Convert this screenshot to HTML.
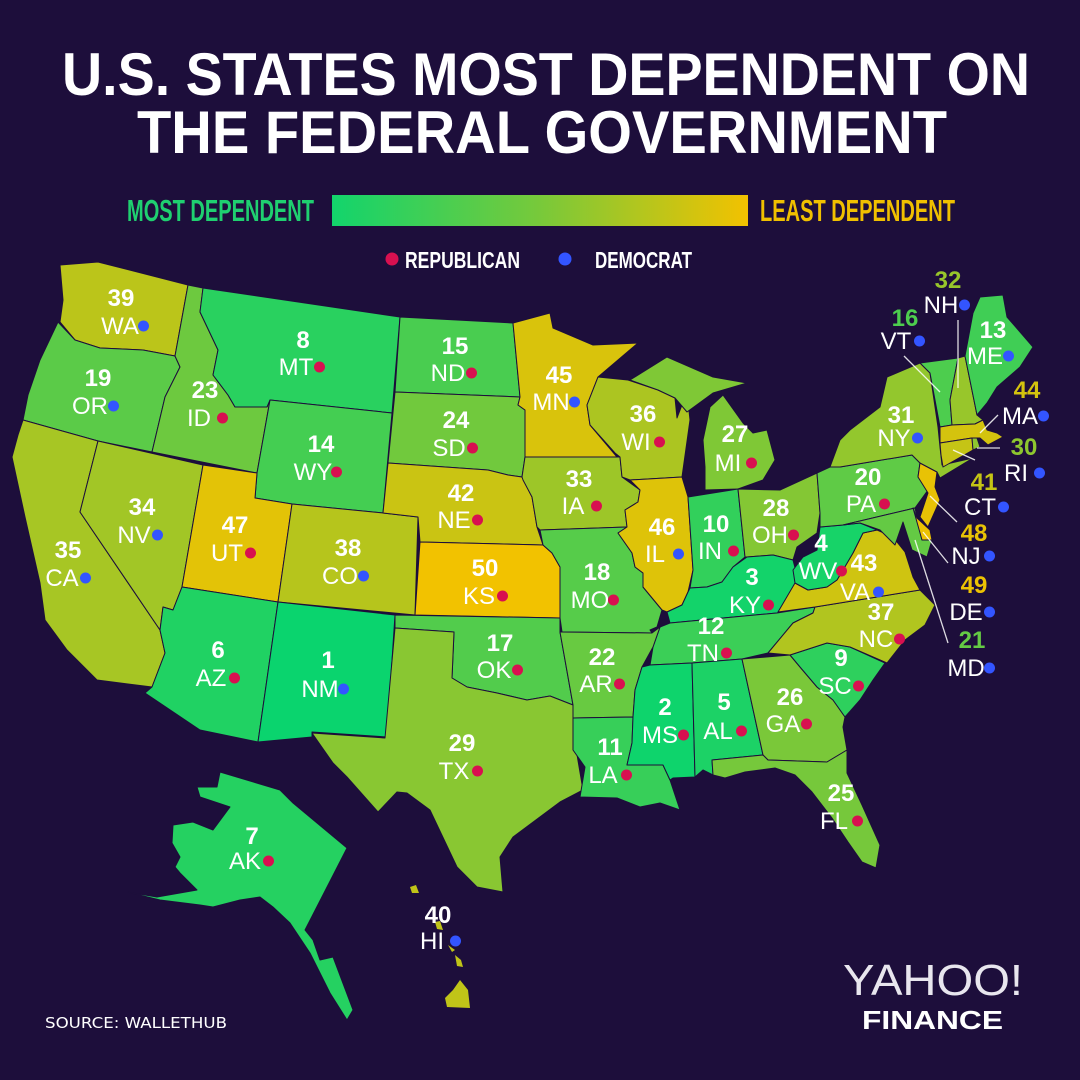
<!DOCTYPE html>
<html><head><meta charset="utf-8">
<style>
html,body{margin:0;padding:0;background:#1d0e3b;}
svg{display:block}
</style></head>
<body>
<svg id="s" width="1080" height="1080" viewBox="0 0 1080 1080" xmlns="http://www.w3.org/2000/svg">
<rect width="1080" height="1080" fill="#1d0e3b"/>
<defs>
<linearGradient id="lg" x1="0" x2="1" y1="0" y2="0">
<stop offset="0" stop-color="#12d46c"/>
<stop offset="0.5" stop-color="#78c93a"/>
<stop offset="1" stop-color="#f2c200"/>
</linearGradient>
</defs>
<g font-family="Liberation Sans, sans-serif" font-weight="bold" fill="#fff">
<text x="62" y="95" font-size="60" textLength="968" lengthAdjust="spacingAndGlyphs">U.S. STATES MOST DEPENDENT ON</text>
<text x="137" y="153" font-size="60" textLength="810" lengthAdjust="spacingAndGlyphs">THE FEDERAL GOVERNMENT</text>
<text x="127" y="221" font-size="31" fill="#1fd070" textLength="187" lengthAdjust="spacingAndGlyphs">MOST DEPENDENT</text>
<text x="760" y="221" font-size="31" fill="#f0c000" textLength="195" lengthAdjust="spacingAndGlyphs">LEAST DEPENDENT</text>
<text x="405" y="268" font-size="23" textLength="115" lengthAdjust="spacingAndGlyphs">REPUBLICAN</text>
<text x="595" y="268" font-size="23" textLength="97" lengthAdjust="spacingAndGlyphs">DEMOCRAT</text>
</g>
<rect x="332" y="195" width="416" height="31" fill="url(#lg)"/>
<circle cx="392" cy="259" r="6.5" fill="#d81050"/>
<circle cx="565" cy="259" r="6.5" fill="#3355ff"/>
<g id="map" stroke="#1d0e3b" stroke-width="1" stroke-linejoin="round"></g>
<g id="lines" stroke="#ffffff" stroke-width="1.3" opacity="0.85"></g>
<g id="labels" font-family="Liberation Sans, sans-serif"></g>
<text x="45" y="1028" font-family="DejaVu Sans, Liberation Sans, sans-serif" font-size="15" fill="#fff" textLength="182" lengthAdjust="spacingAndGlyphs">SOURCE:  WALLETHUB</text>
<text x="843" y="995" font-family="Liberation Sans, sans-serif" font-size="44" fill="#e8e6ee" textLength="180" lengthAdjust="spacingAndGlyphs">YAHOO!</text>
<text x="862" y="1029" font-family="Liberation Sans, sans-serif" font-weight="bold" font-size="26" fill="#fff" textLength="141" lengthAdjust="spacingAndGlyphs">FINANCE</text>
</svg>
<script>
function col(r){var t=(r-1)/49,a,b,u;var s0=[10,212,110],s1=[120,200,58],s2=[242,194,0];
if(t<.5){a=s0;b=s1;u=t/.5}else{a=s1;b=s2;u=(t-.5)/.5}
return 'rgb('+a.map(function(v,i){return Math.round(v+(b[i]-v)*u)}).join(',')+')';}
var P={
WA:[39,"60,265 98,262 188,285 175,356 143,350 100,348 75,340 60,322 63,300"],
OR:[19,"58,322 75,340 100,348 143,350 175,356 180,367 165,397 152,452 98,441 23,420 28,395 40,360"],
CA:[35,"23,420 98,441 80,512 160,630 165,653 152,687 97,680 67,650 45,620 40,583 25,517 12,457 18,435"],
NV:[34,"98,441 203,465 182,587 173,610 163,607 160,630 80,512"],
ID:[23,"188,285 203,288 200,312 218,350 213,375 228,395 235,407 267,407 270,400 257,473 152,452 165,397 180,367 175,356"],
MT:[8,"203,288 400,317 392,413 270,400 267,407 235,407 228,395 213,375 218,350 200,312"],
WY:[14,"270,400 392,413 383,513 292,504 255,498 257,473"],
UT:[47,"203,465 257,473 255,498 292,504 278,602 182,587"],
CO:[38,"292,504 383,513 418,517 415,615 278,602"],
AZ:[6,"182,587 278,602 258,742 200,730 145,693 152,687 165,653 160,630 163,607 173,610"],
NM:[1,"278,602 395,615 387,737 312,732 312,737 258,742"],
ND:[15,"400,317 513,323 520,397 395,392"],
SD:[24,"395,392 520,397 518,405 525,410 525,457 522,477 508,475 488,470 388,463"],
NE:[42,"388,463 488,470 508,475 522,477 532,497 537,527 543,545 420,542 418,517 383,513"],
KS:[50,"420,542 543,545 552,553 560,567 560,618 415,615"],
OK:[17,"395,615 560,618 560,632 565,660 573,705 550,696 527,700 497,693 467,687 452,678 454,632 395,628"],
TX:[29,"395,628 454,632 452,678 467,687 497,693 527,700 550,696 573,705 575,743 583,790 560,802 513,837 500,857 503,892 477,887 457,867 430,810 407,793 397,792 378,812 347,777 333,763 312,733 385,738"],
MN:[45,"513,323 550,313 553,328 593,345 638,343 598,377 587,405 590,425 617,457 525,457 525,410 518,405 520,397"],
IA:[33,"525,457 620,457 622,477 640,490 638,502 625,510 627,527 540,530 537,527 532,497 523,480 522,477"],
MO:[18,"540,530 627,527 618,533 632,553 635,567 643,573 643,587 662,610 657,627 650,630 652,633 562,632 560,618 560,567 552,553 543,545"],
WI:[36,"598,377 628,380 658,390 675,398 677,418 687,392 690,420 682,477 630,480 622,477 620,457 615,453 590,425 587,405"],
MIU:[27,"630,380 667,357 713,377 747,383 713,393 687,412 675,398 658,390"],
MI:[27,"705,490 738,489 763,480 775,460 767,430 753,433 743,423 723,395 710,407 703,440 705,467"],
IL:[46,"630,480 682,477 688,497 693,570 688,592 682,605 667,612 662,610 643,587 643,573 635,567 632,553 618,533 627,527 625,510 638,502 640,490"],
IN:[10,"688,497 738,489 745,557 733,567 722,582 707,587 690,588 693,570"],
OH:[28,"738,489 780,490 817,473 820,513 817,533 797,547 793,560 773,555 747,557 745,557"],
KY:[3,"690,588 707,587 722,582 733,567 747,557 773,555 793,560 800,587 813,590 803,603 777,613 670,623 667,612 682,605 688,592"],
TN:[12,"660,627 670,623 777,613 815,607 813,613 793,623 768,653 742,659 692,663 650,665 653,647"],
AR:[22,"562,632 652,633 660,627 653,647 642,667 635,690 633,717 573,718 573,705 565,660 560,632"],
LA:[11,"573,718 633,717 632,743 627,765 663,765 670,780 680,810 660,803 640,807 617,798 580,797 585,767 573,750"],
MS:[2,"650,665 692,663 695,777 673,778 670,780 663,765 627,765 632,743 633,717 635,690 642,667"],
AL:[5,"692,663 742,659 763,755 712,760 713,775 703,770 695,777"],
GA:[26,"742,659 790,655 800,667 817,687 833,700 845,717 843,727 847,750 827,762 768,760 763,755"],
SC:[9,"790,655 827,643 850,647 885,663 873,680 860,700 845,717 833,700 817,687 800,667"],
FL:[25,"712,760 763,755 768,760 827,762 847,750 847,773 862,805 880,845 876,868 862,862 848,842 832,818 812,792 795,775 775,768 745,772 725,778 713,775"],
NC:[37,"815,607 920,590 935,605 925,625 905,640 887,663 850,647 827,643 790,655 768,653 793,623 813,613"],
VA:[43,"778,612 795,583 808,590 827,587 837,580 843,570 853,553 863,533 877,530 893,537 905,552 913,577 920,590 815,607"],
WV:[4,"795,583 793,570 803,557 817,550 820,527 843,525 860,523 877,530 863,533 853,553 843,570 837,580 827,587 808,590"],
PA:[20,"817,473 830,467 840,467 912,455 920,463 918,477 928,490 915,508 843,525 820,527 820,513"],
MD:[21,"843,525 915,508 922,540 932,540 927,557 912,550 903,522 895,545 880,530 860,523"],
DE:[49,"913,508 917,518 930,530 932,540 922,540"],
NJ:[48,"920,463 937,472 935,487 940,500 928,527 920,517 928,493 918,477"],
NY:[31,"830,467 840,467 912,455 920,463 937,472 940,478 973,458 942,465 940,447 938,427 930,373 920,363 887,377 880,407 850,430 840,440"],
VT:[16,"920,363 958,358 950,400 952,425 940,427 930,373"],
NH:[32,"958,358 965,356 977,415 983,420 975,424 952,425 950,400"],
ME:[13,"965,356 973,313 980,297 1003,295 1007,317 1033,347 1020,367 997,387 987,403 977,415"],
MA:[44,"940,427 952,425 975,424 983,420 987,430 997,433 1003,437 988,445 980,438 972,438 940,443"],
CT:[41,"940,443 972,438 973,450 943,467 941,455"],
RI:[30,"972,438 977,438 980,447 973,450"],
AK:[7,"220,772 280,790 293,803 347,848 305,930 313,940 320,960 333,957 353,1010 347,1020 330,993 310,953 290,923 273,907 260,897 240,900 213,907 200,905 160,900 127,892 157,897 197,890 180,873 175,867 180,857 172,843 173,825 193,822 213,830 230,807 200,797 197,787 217,787"],
HI1:[40,"410,887 416,885 419,893 412,893"],
HI2:[40,"435,922 440,921 443,930 437,929"],
HI3:[40,"448,945 455,950 452,952"],
HI4:[40,"455,955 461,960 463,967 457,966"],
HI5:[40,"460,980 468,990 470,1008 447,1007 445,998 453,990"]
};
var ns="http://www.w3.org/2000/svg",m=document.getElementById('map');
for(var k in P){var p=document.createElementNS(ns,'polygon');p.setAttribute('points',P[k][1]);p.setAttribute('fill',col(P[k][0]));if(k.indexOf('HI')==0)p.setAttribute('stroke','none');m.appendChild(p);}
var L=[
["WA",39,121,306,120,334,"D"],["OR",19,98,386,90,414,"D"],["CA",35,68,558,62,586,"D"],["NV",34,142,515,134,543,"D"],
["ID",23,205,398,199,426,"R"],["MT",8,303,348,296,375,"R"],["WY",14,321,452,313,480,"R"],["UT",47,235,533,227,561,"R"],
["CO",38,348,556,340,584,"D"],["AZ",6,218,658,211,686,"R"],["NM",1,328,668,320,697,"D"],["ND",15,455,354,448,381,"R"],
["SD",24,456,428,449,456,"R"],["NE",42,461,501,454,528,"R"],["KS",50,485,576,479,604,"R"],["OK",17,500,651,494,678,"R"],
["TX",29,462,751,454,779,"R"],["MN",45,559,383,551,410,"D"],["IA",33,579,487,573,514,"R"],["MO",18,597,580,590,608,"R"],
["AR",22,602,665,596,692,"R"],["LA",11,610,755,603,783,"R"],["WI",36,643,422,636,450,"R"],["IL",46,662,535,655,562,"D"],
["MI",27,735,442,728,471,"R"],["IN",10,716,532,710,559,"R"],["OH",28,776,516,770,543,"R"],["KY",3,752,585,745,613,"R"],
["TN",12,711,634,703,661,"R"],["MS",2,665,715,660,743,"R"],["AL",5,724,710,718,739,"R"],["GA",26,790,705,783,732,"R"],
["SC",9,841,666,835,694,"R"],["FL",25,841,801,834,829,"R"],["NC",37,881,620,876,647,"R"],["VA",43,864,571,855,600,"D"],
["WV",4,821,551,818,579,"R"],["PA",20,868,485,861,512,"R"],["NY",31,901,423,894,446,"D"],
["NH",32,948,288,941,313,"D",1],["VT",16,905,326,896,349,"D",1],["ME",13,993,338,985,364,"D"],["MA",44,1027,398,1020,424,"D",1],
["RI",30,1024,455,1016,481,"D",1],["CT",41,984,490,980,515,"D",1],["NJ",48,974,541,966,564,"D",1],["DE",49,974,593,966,620,"D",1],
["MD",21,972,648,966,676,"D",1],["HI",40,438,923,432,949,"D"],["AK",7,252,844,245,869,"R"]
];
var g=document.getElementById('labels');
function t(x,y,s,w,c,sz){var e=document.createElementNS(ns,'text');e.setAttribute('x',x);e.setAttribute('y',y);e.setAttribute('text-anchor','middle');e.setAttribute('font-size',sz);e.setAttribute('font-weight',w);e.setAttribute('fill',c);e.textContent=s;g.appendChild(e);return e;}
L.forEach(function(d){
 t(d[2],d[3],String(d[1]),'bold',d[7]?col(d[1]):'#fff',24);
 var e=t(d[4],d[5],d[0],'normal','#fff',24);
 var w=d[0].length*14.5;
 var c=document.createElementNS(ns,'circle');c.setAttribute('cx',d[4]+w/2+9);c.setAttribute('cy',d[5]-8);c.setAttribute('r',5.5);
 c.setAttribute('fill',d[6]=="R"?"#d81050":"#3355ff");g.appendChild(c);
});
var LN=[[958,320,958,388],[904,356,940,392],[998,415,980,433],[1000,448,977,448],[975,460,953,450],[957,522,930,496],[948,563,923,532],[948,643,915,540]];
var lg=document.getElementById('lines');
LN.forEach(function(a){var l=document.createElementNS(ns,'line');l.setAttribute('x1',a[0]);l.setAttribute('y1',a[1]);l.setAttribute('x2',a[2]);l.setAttribute('y2',a[3]);lg.appendChild(l);});
</script>
</body></html>
